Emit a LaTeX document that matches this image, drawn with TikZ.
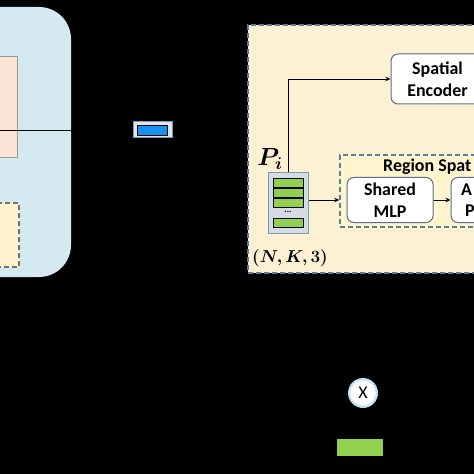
\documentclass[tikz,border=0pt]{standalone}
\usepackage{fontspec}
\usepackage{amsmath,bm}
\setmainfont{Carlito}
\usetikzlibrary{arrows.meta,calc}
\definecolor{panelblue}{HTML}{D5E9F1}
\definecolor{pinkfill}{HTML}{FBE3D6}
\definecolor{yellowfill}{HTML}{FFF2CC}
\definecolor{panelyellow}{HTML}{FCF1D3}
\definecolor{regionyellow}{HTML}{FEF5CE}
\definecolor{dashblue}{HTML}{5A7D9A}
\definecolor{boxedge}{HTML}{5C6F84}
\definecolor{ptfill}{HTML}{D6DCE5}
\definecolor{ptedge}{HTML}{8497B0}
\definecolor{barg}{HTML}{92D050}
\definecolor{tokblue}{HTML}{1890F0}
\definecolor{tokout}{HTML}{DCE6F2}
\definecolor{glow}{HTML}{BFDDF2}
\tikzset{
  rbox/.style={draw=boxedge, line width=1bp, fill=white, rounded corners=7bp, inner sep=0pt, align=center, font=\fontsize{18}{22}\selectfont\bfseries},
  boxtext/.style={inner sep=0pt, font=\fontsize{18}{22}\selectfont\bfseries},
  dashbox/.style={dash pattern=on 5bp off 3bp, line width=1.4bp, inner sep=0pt},
  bar/.style={draw=black, line width=0.9bp, fill=barg, minimum width=30bp, minimum height=9bp, inner sep=0pt},
  arr/.style={line width=0.9bp, -{Stealth[length=5bp,width=4.5bp]}},
}
\begin{document}
\begin{tikzpicture}[x=1bp,y=-1bp]
\useasboundingbox[fill=black] (0,0) rectangle (474,474);
\clip (0,0) rectangle (474,474);
% left panel
\node[fill=panelblue, rounded corners=32bp, minimum width=111bp, minimum height=270bp, inner sep=0pt] (panel) at (15.5,142) {};
\node[fill=pinkfill, draw=gray!80, line width=0.8bp, minimum width=37bp, minimum height=101bp, inner sep=0pt] (pink) at (-1.5,106.5) {};
\node[dashbox, fill=yellowfill, draw=gray!90!black, minimum width=39bp, minimum height=64bp] (ybox) at (-0.5,235) {};
\coordinate (lineS) at (-5,130);
\draw[line width=0.9bp] (lineS) -- (lineS -| panel.east);
% token
\node[fill=tokout, draw=ptedge, line width=1bp, minimum width=39bp, minimum height=16bp, inner sep=0pt] (tokout) at (152.5,130) {};
\node[fill=tokblue, draw=black, line width=0.9bp, minimum width=30bp, minimum height=10bp, inner sep=0pt] (tok) at (152,130) {};
% right panel
\node[dashbox, fill=panelyellow, draw=dashblue, minimum width=272bp, minimum height=248bp] (rpanel) at (384,149) {};
\node[rbox, minimum width=93bp, minimum height=50bp] (spatial) at (437.5,79) {Spatial\\Encoder};
\node[dashbox, fill=regionyellow, draw=dashblue, minimum width=220bp, minimum height=72bp] (region) at (450,191) {};
\node[boxtext, anchor=west] (rtitle) at (383,167) {Region Spat};
\node[rbox, minimum width=86bp, minimum height=45bp] (shared) at (390,200) {Shared\\MLP};
\node[rbox, minimum width=86bp, minimum height=45bp] (apool) at (494,200) {};
\node[boxtext, anchor=west] (aword) at (461,190) {A};
\node[boxtext, anchor=west] (pword) at (465,211) {P};
% point group
\node[fill=ptfill, draw=ptedge, line width=1bp, minimum width=40bp, minimum height=60bp, inner sep=0pt] (pbox) at (288,203) {};
\node[bar] (b1) at (288,182.5) {};
\node[bar] (b2) at (288,192.5) {};
\node[bar] (b3) at (288,202.5) {};
\node[inner sep=0pt, font=\fontsize{9}{9}\selectfont\bfseries] (dots) at (288,211.5) {...};
\node[bar] (b4) at (288,223) {};
\node[inner sep=0pt, font=\fontsize{23}{25}\selectfont] (plabel) at (270,159) {$\bm{P_i}$};
\node[inner sep=0pt, font=\fontsize{18}{21}\selectfont] (nk) at (290,258) {$\bm{(N,K,3)}$};
% arrows
\draw[arr] (pbox.north) |- (spatial.west);
\draw[arr] (pbox.east |- shared.west) -- (region.west |- shared.west);
\draw[arr] (shared.east) -- (apool.west);
% multiply and output
\node[circle, fill=glow, minimum size=30bp, inner sep=0pt] (glowc) at (363,393) {};
\node[circle, fill=white, draw=glow!70!white, line width=0.8bp, minimum size=26bp, inner sep=0pt, font=\fontsize{18}{18}\selectfont] (mult) at (363,393) {X};
\node[fill=barg, minimum width=46bp, minimum height=17bp, inner sep=0pt] (outbar) at (360,447.5) {};
\end{tikzpicture}
\end{document}
